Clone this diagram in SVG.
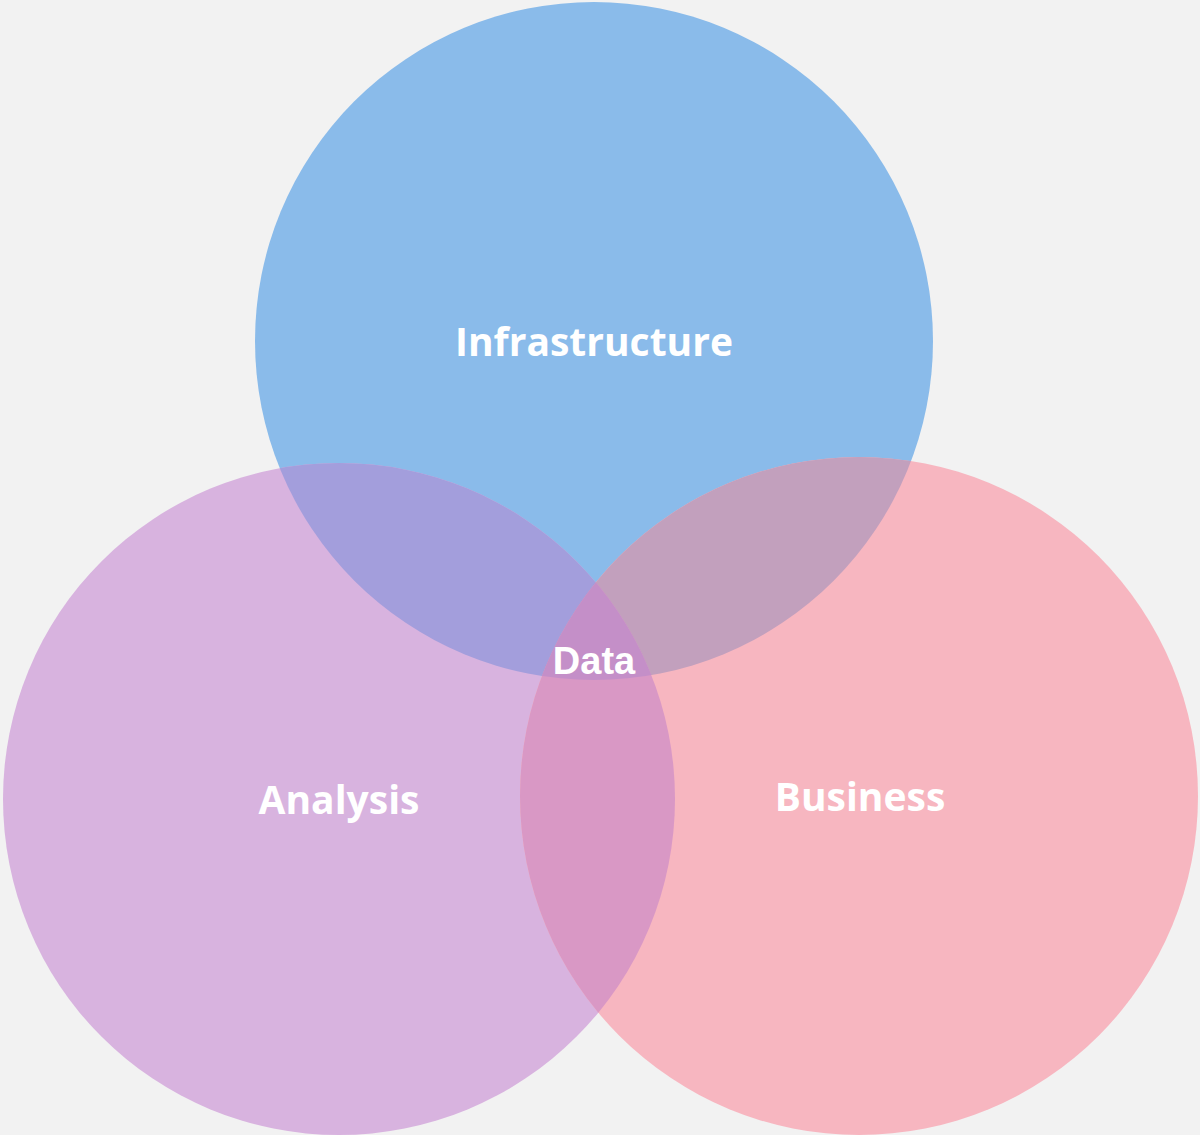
<svg xmlns="http://www.w3.org/2000/svg" width="1200" height="1135" viewBox="0 0 1200 1135">
  <defs>
    <clipPath id="clipBlue"><circle cx="594" cy="341" r="339"/></clipPath>
    <clipPath id="clipPurple"><circle cx="339" cy="799" r="336"/></clipPath>
    <clipPath id="clipPink"><circle cx="859" cy="796" r="339"/></clipPath>
    <style>
      .lbl { fill: #ffffff; font-family: "Open Sans", "Liberation Sans", sans-serif; font-weight: bold; font-size: 39px; text-anchor: middle; }
      .lbl2 { fill: #ffffff; font-family: "Liberation Sans", Arial, sans-serif; font-weight: bold; font-size: 38px; text-anchor: middle; }
    </style>
  </defs>
  <rect width="1200" height="1135" fill="#F2F2F2"/>
  <g id="infrastructure">
    <circle cx="594" cy="341" r="339" fill="#8ABBEA"/>
  </g>
  <g id="analysis">
    <circle cx="339" cy="799" r="336" fill="#D8B3DF"/>
  </g>
  <g id="business">
    <circle cx="859" cy="796" r="339" fill="#F7B6C0"/>
  </g>
  <g id="overlaps">
    <circle cx="339" cy="799" r="336" fill="#A39EDC" clip-path="url(#clipBlue)"/>
    <circle cx="859" cy="796" r="339" fill="#C2A0BD" clip-path="url(#clipBlue)"/>
    <circle cx="859" cy="796" r="339" fill="#D998C5" clip-path="url(#clipPurple)"/>
    <g clip-path="url(#clipBlue)">
      <circle cx="859" cy="796" r="339" fill="#C48FC8" clip-path="url(#clipPurple)"/>
    </g>
  </g>
  <g id="labels">
    <text class="lbl" x="594" y="356">Infrastructure</text>
    <text class="lbl" x="339" y="814">Analysis</text>
    <text class="lbl" x="860" y="811">Business</text>
    <text class="lbl2" x="594" y="674">Data</text>
  </g>
</svg>
